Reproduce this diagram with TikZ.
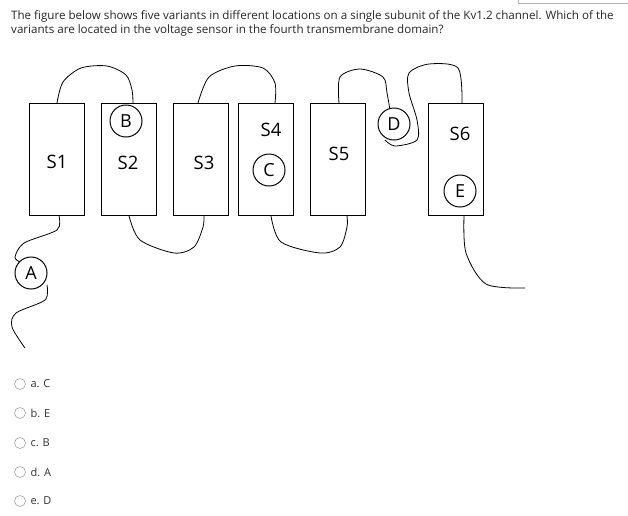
\documentclass[tikz,border=0pt]{standalone}
\usepackage{fontspec}
\setmainfont{Open Sans}
\begin{document}
\begin{tikzpicture}[x=1pt,y=-1pt,
  tm/.style={draw,line width=1.3pt,minimum width=55pt,minimum height=112pt,anchor=north west,inner sep=0},
  lbl/.style={font=\fontsize{18.5}{18.5}\selectfont},
  var/.style={draw,circle,line width=1pt,minimum size=32pt,inner sep=0,font=\fontsize{18}{18}\selectfont,fill=white},
  loop/.style={line width=0.8pt},
  opt/.style={draw=gray,circle,minimum size=11pt,inner sep=0},
  otx/.style={anchor=west,font=\fontsize{11}{11}\selectfont,text=black!80}]
\useasboundingbox (0,0) rectangle (628,515);
\draw[gray!60] (518,0) -- (518,3) -- (628,3);
\node[anchor=north west,align=left,font=\fontsize{11.6}{14}\selectfont,text=black!85,inner sep=0] (q) at (11,10)
 {The figure below shows five variants in different locations on a single subunit of the Kv1.2 channel. Which of the\\variants are located in the voltage sensor in the fourth transmembrane domain?};
% loops
\draw[loop] plot[smooth] coordinates{(57,103)(63,82)(81,68)(107,66)(126,75)(132,90)(133,103)};
\draw[loop] plot[smooth] coordinates{(129,216)(140,240)(174,253)(194,247)(203,227)(204,216)};
\draw[loop] plot[smooth] coordinates{(198,103)(209,77)(235,66)(263,68)(275,83)(275,103)};
\draw[loop] plot[smooth] coordinates{(271,216)(281,242)(320,253)(340,247)(347,227)(347,216)};
\draw[loop] plot[smooth] coordinates{(339,103)(340,77)(360,69)(383,77)(387,93)(390,110)};
\draw[loop] plot[smooth] coordinates{(385,140)(395,146)(417,140)(417,120)(409,93)(409,73)(429,64)(458,68)(462,103)};
\draw[loop] plot[smooth] coordinates{(464,216)(466,253)(486,284)(525,288)};
\draw[loop] plot[smooth] coordinates{(59,216)(57,230)(24,243)(15,257)(20,262)};
\draw[loop] plot[smooth] coordinates{(47,285)(45,300)(16,313)(12,327)(25,348)};
% boxes
\node[tm] (s1) at (29,103) {};
\node[tm] (s2) at (101,103) {};
\node[tm] (s3) at (173,103) {};
\node[tm] (s4) at (238,103) {};
\node[tm] (s5) at (310,103) {};
\node[tm] (s6) at (428,103) {};
\node[lbl] (l1) at (57,162) {S1};
\node[lbl] (l2) at (128,163) {S2};
\node[lbl] (l3) at (204,163) {S3};
\node[lbl] (l4) at (271,130) {S4};
\node[lbl] (l5) at (339,154) {S5};
\node[lbl] (l6) at (460,134) {S6};
\node[var] (b) at (126,121) {B};
\node[var] (c) at (269,170) {C};
\node[var] (d) at (394,124) {D};
\node[var] (e) at (460,191) {E};
\node[var] (a) at (31,273) {A};
% options
\foreach \y/\t [count=\i] in {384/a. C,413/b. E,443/c. B,472/d. A,501/e. D}{
  \node[opt] (o\i) at (20,\y) {};
  \node[otx] (t\i) at (27,\y) {\t};
}
\end{tikzpicture}
\end{document}
